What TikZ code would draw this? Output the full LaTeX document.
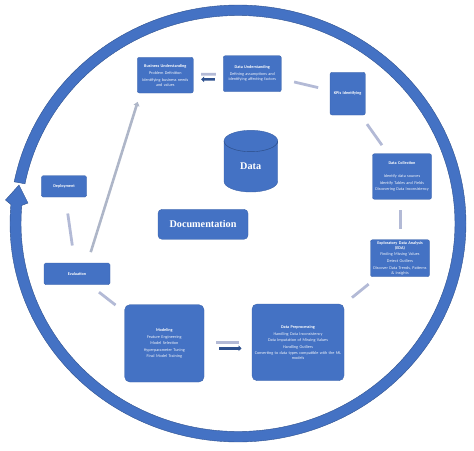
\documentclass[tikz,border=0pt]{standalone}
\usepackage{fontspec}
\setmainfont{Carlito}
\newfontfamily\serifbold{Liberation Serif}[BoldFont={Liberation Serif Bold}]
\usetikzlibrary{arrows.meta}
\definecolor{blu}{HTML}{4472C4}
\definecolor{edgeb}{HTML}{2F528F}
\definecolor{lnk}{HTML}{B3BAD6}
\definecolor{lnkg}{HTML}{AEB6C8}
\definecolor{txt}{HTML}{EEF2FA}
\newcommand{\ttl}[1]{{\bfseries\color{white}#1}}
\begin{document}
\begin{tikzpicture}[x=1pt,y=-1pt,
  boxn/.style={fill=blu,draw=blu!85!black,line width=0.3pt,inner sep=1pt,align=center,text=txt,font=\fontsize{4.2}{5}\selectfont},
  bign/.style={boxn,text=white,font=\serifbold\bfseries\fontsize{10.2}{12}\selectfont},
  lightlink/.style={draw=lnk,line width=2.8pt},
  grayarrow/.style={draw=lnkg,line width=2.6pt,-{Triangle[length=4pt,width=6pt]}},
  darkarrow/.style={draw=edgeb,line width=2.5pt,-{Triangle[length=3pt,width=5.5pt]}},
  ring/.style={fill=blu,draw=edgeb,line width=0.4pt}]
\useasboundingbox (0,0) rectangle (474,450);
% ring arrow
\path[ring] plot[domain=191:545,samples=200] ({238+228*cos(\x)},{223.5+218.5*sin(\x)})
  -- (5.5,200) -- (19,185) -- (28,203)
  -- plot[domain=545:191,samples=200] ({238+217*cos(\x)},{223.5+208*sin(\x)}) -- cycle;
% boxes
\node[boxn,rounded corners=2pt,minimum width=56pt,minimum height=35.7pt,text width=54pt] (bu) at (165.3,75.15)
 {\ttl{Business Understanding}\\[2pt]Problem Definition\\[2pt]Identifying business needs\\and values};
\node[boxn,rounded corners=2pt,minimum width=58pt,minimum height=36pt,text width=56pt] (du) at (252.3,73.7)
 {\ttl{Data Understanding}\\[2pt]Defining assumptions and\\identifying affecting factors};
\node[boxn,rounded corners=2pt,minimum width=35.3pt,minimum height=42.7pt,text width=33pt] (kpi) at (347.65,93.65)
 {\ttl{KPIs Identifying}};
\node[boxn,rounded corners=2pt,minimum width=58.6pt,minimum height=45.6pt,text width=57pt] (dc) at (402,176.5)
 {\ttl{Data Collection}\\[8pt]Identify data sources\\[1.6pt]Identify Tables and Fields\\[1.2pt]Discovering Data Inconsistency};
\node[boxn,rounded corners=2pt,minimum width=58.6pt,minimum height=37pt,text width=57pt] (eda) at (400,258.2)
 {\ttl{Exploratory Data Analysis}\\\ttl{(EDA)}\\[1pt]Finding Missing Values\\[2pt]Detect Outliers\\[1.6pt]Discover Data Trends, Patterns\\\& Insights};
\node[boxn,rounded corners=5pt,minimum width=92pt,minimum height=76.7pt,text width=90pt] (dp) at (298,342.35)
 {\ttl{Data Preprocessing}\\[1.6pt]Handling Data Inconsistency\\[1.6pt]Data Imputation  of Missing Values\\[1.6pt]Handling Outliers\\[1pt]Converting to data types compatible with the ML\\models};
\node[boxn,rounded corners=5pt,minimum width=79.3pt,minimum height=77.3pt,text width=77pt] (mod) at (164.35,343.35)
 {\ttl{Modeling}\\[1.6pt]Feature Engineering\\[1.6pt]Model Selection\\[1.6pt]Hyperparameter Tuning\\[1pt]Final Model Training};
\node[boxn,rounded corners=1.5pt,minimum width=66pt,minimum height=21.7pt] (eval) at (77,273.85) {\ttl{Evaluation}};
\node[boxn,rounded corners=1.5pt,minimum width=45.4pt,minimum height=21.3pt] (dep) at (64,186.35) {\ttl{Deployment}};
\node[bign,rounded corners=4pt,minimum width=90pt,minimum height=30pt] (doc) at (203,224.3) {Documentation};
% data cylinder
\path[ring,draw=blu!85!black] (224,141) -- (224,181.3) arc[start angle=180,end angle=360,x radius=26.85pt,y radius=10.7pt] -- (277.7,141) arc[start angle=0,end angle=360,x radius=26.85pt,y radius=10.7pt];
\draw[edgeb,line width=0.4pt] (224,141) arc[start angle=180,end angle=360,x radius=26.85pt,y radius=10.7pt];
\node[font=\serifbold\bfseries\fontsize{10.2}{12}\selectfont,text=white,inner sep=0pt] (data) at (250.7,166.5) {Data};
% connectors
\draw[lightlink,shorten <=7.7pt,shorten >=7.3pt] ([shift={(0,-0.85)}]bu.east) -- ([shift={(0,0.6)}]du.west);
\draw[darkarrow,shorten <=8.3pt,shorten >=7.7pt] ([shift={(0,5.6)}]du.west) -- ([shift={(0,4.15)}]bu.east);
\draw[lightlink,shorten <=13pt,shorten >=12pt] ([shift={(0,5.3)}]du.east) -- ([shift={(0,-3.3)}]kpi.west);
\draw[lightlink,shorten <=11pt,shorten >=10.3pt] ([shift={(13,0)}]kpi.south) -- ([shift={(-14.1,0)}]dc.north);
\draw[lightlink,shorten <=10.7pt,shorten >=10.4pt] ([shift={(-1.3,0)}]dc.south) -- ([shift={(0.7,0)}]eda.north);
\draw[lightlink,shorten <=11.5pt,shorten >=9.9pt] ([shift={(-22.4,0)}]eda.south) -- ([shift={(46.3,0)}]dp.north);
\draw[lightlink,shorten <=12.7pt,shorten >=11.7pt] (dp.west) -- (dp.west -| mod.east);
\draw[darkarrow,shorten <=15.3pt,shorten >=10.3pt] ([shift={(0,4.95)}]mod.east) -- ([shift={(0,5.95)}]dp.west);
\draw[lightlink,shorten <=11.4pt,shorten >=11.9pt] ([shift={(0,-31.3)}]mod.west) -- ([shift={(12.6,0)}]eval.south);
\draw[lightlink,shorten <=17.5pt,shorten >=16.5pt] ([shift={(-2.2,0)}]eval.north) -- ([shift={(1.4,0)}]dep.south);
\draw[grayarrow,shorten <=11.2pt,shorten >=9.1pt] ([shift={(10.4,0)}]eval.north) -- ([shift={(-24.9,0)}]bu.south);
\end{tikzpicture}
\end{document}
